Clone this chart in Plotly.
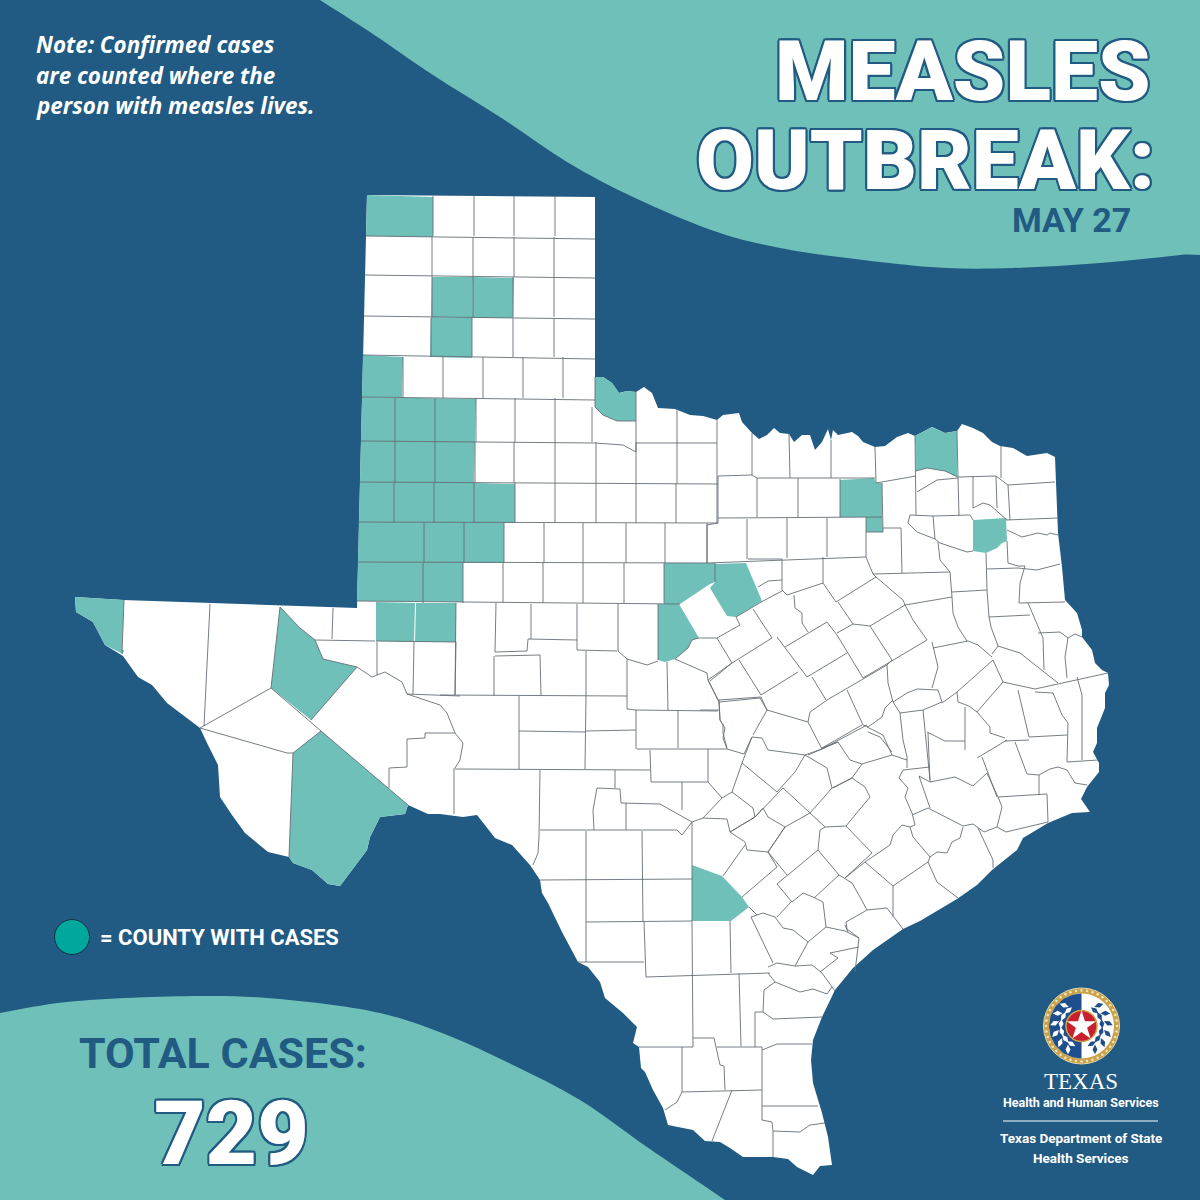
import numpy as np
import plotly.graph_objects as go

NAVY = "#215B83"
TEAL = "#6FC0B8"
LINE = "#666E76"

top_wave = [(260, -40), (320, 0), (367, 30), (433, 75), (500, 117), (567, 162), (633, 197), (720, 233),
            (780, 248), (880, 262), (947, 268), (1013, 268), (1100, 263), (1180, 255), (1260, 245)]
bottom_wave = [(-60, 1024), (0, 1013), (67, 1002), (200, 996), (267, 998), (380, 1013), (447, 1035), (513, 1065),
               (580, 1100), (647, 1147), (725, 1200), (760, 1225)]

state_border = [
    (367, 195), (595, 197), (595, 377), (603, 377), (612, 383), (619, 393), (627, 391), (636, 392), (644, 387),
    (652, 393), (658, 408), (675, 409), (690, 415), (703, 416), (717, 420), (723, 415), (739, 413), (742, 422),
    (752, 433), (759, 439), (767, 435), (774, 428), (780, 433), (789, 434), (794, 442), (802, 435), (810, 435),
    (815, 450), (822, 442), (828, 429), (831, 440), (833, 430), (838, 435), (852, 432), (858, 436), (863, 442),
    (875, 447), (885, 446), (897, 437), (908, 433), (915, 436), (932, 427), (945, 433), (957, 431), (962, 424),
    (973, 428), (983, 433), (992, 442), (1000, 446), (1013, 448), (1027, 456), (1047, 453), (1055, 457),
    (1058, 533), (1062, 567), (1065, 600), (1077, 613), (1082, 630), (1082, 637), (1092, 650), (1095, 663),
    (1102, 670), (1108, 673), (1109, 685), (1105, 693), (1105, 708), (1097, 728), (1097, 743), (1093, 752),
    (1099, 763), (1099, 772), (1087, 787), (1081, 799), (1090, 812), (1072, 813), (1048, 823), (1023, 838),
    (1017, 850), (992, 870), (977, 885), (957, 899), (920, 921), (903, 929), (873, 950), (853, 968), (835, 990),
    (822, 1017), (813, 1040), (811, 1060), (813, 1083), (822, 1113), (828, 1137), (832, 1165), (820, 1166),
    (813, 1175), (797, 1167), (788, 1159), (773, 1157), (743, 1157), (730, 1148), (720, 1142), (705, 1141),
    (693, 1130), (668, 1125), (663, 1108), (653, 1090), (645, 1072), (641, 1068), (639, 1047), (633, 1043),
    (637, 1027), (623, 1013), (605, 998), (600, 982), (588, 967), (578, 962), (562, 932), (548, 903), (542, 893),
    (540, 880), (530, 865), (512, 845), (495, 838), (477, 815), (463, 817), (440, 814), (428, 814), (408, 805),
    (405, 814), (380, 817), (370, 837), (367, 850), (340, 886), (328, 884), (312, 870), (293, 863), (289, 857),
    (268, 852), (245, 833), (232, 815), (220, 797), (218, 765), (207, 743), (200, 728), (167, 703), (152, 685),
    (138, 677), (123, 656), (105, 645), (93, 622), (76, 612), (75, 597), (123, 600), (357, 608),
]

counties_with_cases = [
    [(367, 195), (433, 197), (433, 237), (366, 236)],
    [(432, 277), (473, 277), (472, 318), (431, 317)],
    [(473, 277), (514, 278), (513, 318), (472, 318)],
    [(431, 317), (472, 318), (472, 358), (430, 357)],
    [(363, 355), (403, 357), (402, 397), (362, 397)],
    [(362, 397), (476, 399), (475, 442), (474, 483), (515, 484), (515, 523), (504, 523), (504, 563), (463, 563),
     (463, 602), (357, 601)],
    [(595, 377), (603, 377), (612, 383), (619, 393), (627, 391), (636, 392), (636, 421), (617, 421), (603, 415),
     (595, 407)],
    [(915, 436), (932, 427), (945, 433), (957, 431), (957, 477), (945, 471), (927, 468), (916, 471)],
    [(840, 480), (874, 478), (876, 483), (882, 483), (882, 517), (840, 517)],
    [(866, 517), (882, 517), (883, 532), (866, 532)],
    [(973, 520), (1006, 518), (1007, 541), (1002, 543), (997, 548), (986, 553), (973, 551)],
    [(715, 564), (746, 563), (762, 601), (736, 617), (727, 616), (710, 588), (715, 582)],
    [(664, 563), (715, 563), (715, 582), (710, 584), (680, 604), (664, 604)],
    [(658, 604), (679, 604), (699, 638), (692, 640), (688, 648), (675, 659), (665, 662), (658, 660)],
    [(376, 602), (415, 603), (414, 642), (376, 641)],
    [(416, 603), (456, 603), (456, 642), (415, 642)],
    [(280, 607), (300, 628), (315, 640), (323, 659), (357, 667), (311, 720), (271, 688)],
    [(321, 731), (408, 805), (405, 814), (380, 817), (370, 837), (367, 850), (340, 886), (328, 884), (312, 870),
     (293, 863), (289, 857), (293, 753)],
    [(75, 597), (124, 600), (122, 650), (124, 650), (123, 654), (105, 645), (93, 622), (76, 612)],
    [(692, 865), (722, 876), (742, 897), (749, 907), (731, 921), (692, 921)],
]

# rows of the square counties in the north: top, bottom, inner column lines
grid_rows = [
    (196, 236, [433, 474, 514, 555]),
    (237, 277, [432, 473, 514, 554]),
    (277, 317, [432, 473, 513, 554]),
    (318, 357, [431, 472, 513, 554]),
    (357, 398, [403, 443, 483, 523, 563]),
    (398, 442, [395, 435, 476, 515, 555]),
    (442, 483, [395, 435, 475, 514, 555, 596, 636, 677]),
    (483, 523, [394, 434, 474, 515, 555, 596, 636, 676]),
    (523, 563, [424, 464, 504, 544, 583, 626, 665, 707]),
    (563, 603, [423, 463, 503, 543, 583, 624, 664]),
]

county_borders = [
    [(366, 236), (595, 239)], [(365, 275), (595, 278)], [(364, 316), (595, 319)], [(363, 355), (595, 359)],
    [(362, 397), (595, 400)], [(361, 441), (595, 443), (623, 445), (636, 452)], [(636, 443), (717, 443)],
    [(360, 482), (718, 484)], [(358, 522), (718, 523)], [(357, 562), (707, 563)], [(357, 601), (680, 604)],
    [(595, 377), (595, 407), (603, 415), (617, 421), (636, 421)], [(592, 407), (592, 442)], [(636, 392), (636, 452)],
    [(677, 409), (677, 443)], [(717, 420), (717, 523)], [(715, 563), (715, 582)],
    [(718, 476), (752, 475), (757, 478), (875, 478)], [(752, 433), (752, 475)], [(789, 434), (790, 478)],
    [(831, 440), (831, 478)], [(875, 447), (876, 483)], [(876, 483), (916, 476)], [(915, 436), (916, 515)],
    [(957, 431), (958, 477)], [(1001, 446), (1001, 478)], [(718, 476), (718, 518)], [(757, 478), (757, 517)],
    [(798, 478), (798, 517)], [(840, 479), (840, 517)], [(718, 518), (882, 517)], [(882, 483), (883, 532), (866, 532)],
    [(883, 528), (901, 528)], [(917, 492), (937, 480), (958, 478)], [(916, 471), (927, 468), (945, 471), (958, 477)],
    [(958, 477), (959, 516)], [(958, 477), (996, 476), (1008, 485), (1055, 482)], [(973, 476), (973, 508)],
    [(996, 476), (997, 508)], [(973, 508), (983, 503), (990, 505), (1007, 520)], [(1008, 485), (1010, 520)],
    [(1006, 520), (1058, 518)], [(1007, 530), (1022, 537), (1038, 533), (1047, 535), (1050, 533), (1058, 535)],
    [(910, 515), (933, 516), (970, 515), (973, 520)],
    [(910, 515), (908, 523), (917, 532), (935, 539), (940, 543), (967, 552), (973, 551)], [(933, 516), (935, 539)],
    [(901, 528), (902, 573)], [(866, 517), (866, 557)], [(866, 557), (873, 574), (950, 572)],
    [(938, 542), (940, 560), (950, 572), (952, 597)], [(986, 553), (987, 590)],
    [(987, 569), (1018, 568), (1037, 570), (1060, 564)], [(1007, 541), (1008, 563), (1018, 566), (1025, 566)],
    [(1025, 566), (1020, 583), (1019, 603), (1065, 602)], [(987, 590), (952, 592)],
    [(987, 590), (989, 617), (991, 627), (998, 646), (1020, 653), (1033, 663), (1058, 683)],
    [(989, 617), (1030, 615)], [(1028, 603), (1043, 638), (1044, 670)],
    [(1038, 633), (1060, 632), (1068, 638), (1065, 657), (1067, 678)], [(1068, 638), (1075, 634), (1082, 637)],
    [(1035, 689), (1108, 673)], [(1077, 677), (1082, 695), (1082, 760)], [(1067, 762), (1098, 760)],
    [(747, 519), (747, 559)], [(787, 518), (787, 558)], [(827, 518), (827, 557)],
    [(718, 518), (718, 523), (707, 525), (707, 563)], [(707, 563), (866, 557)], [(748, 559), (782, 559), (782, 590)],
    [(758, 587), (768, 581), (782, 580)], [(782, 590), (787, 595), (823, 583), (823, 557)],
    [(823, 583), (836, 602), (876, 577), (903, 600), (905, 605)], [(876, 577), (873, 574)],
    [(782, 591), (763, 601), (736, 617), (740, 625), (717, 638), (732, 663)], [(753, 609), (772, 638)],
    [(717, 638), (698, 638), (692, 640), (688, 648), (675, 659)], [(732, 663), (710, 681)],
    [(732, 663), (772, 638)], [(739, 660), (761, 695)], [(708, 680), (718, 700), (761, 697)],
    [(761, 695), (798, 672)], [(777, 637), (807, 677)], [(812, 677), (826, 700)], [(785, 647), (827, 622)],
    [(827, 622), (837, 635), (863, 678)], [(807, 677), (847, 653)],
    [(837, 633), (853, 624), (870, 626), (905, 605)], [(853, 624), (838, 602)],
    [(794, 595), (795, 608), (802, 613), (802, 623), (808, 632)], [(870, 626), (892, 660)], [(863, 678), (927, 640)],
    [(905, 605), (952, 597), (953, 613), (958, 627), (967, 641)], [(905, 605), (913, 620), (927, 640)],
    [(932, 642), (938, 667), (932, 688)], [(933, 648), (968, 641), (978, 645), (992, 657)],
    [(998, 646), (992, 654)], [(993, 660), (1003, 682), (1035, 689)], [(993, 660), (957, 692), (942, 703)],
    [(1003, 682), (977, 712), (969, 706), (958, 702), (957, 692)], [(892, 660), (887, 665), (888, 683), (893, 702)],
    [(847, 690), (863, 725), (868, 727), (882, 717), (885, 708), (893, 700)], [(827, 700), (887, 665)],
    [(827, 700), (810, 712), (808, 722)], [(808, 722), (767, 710), (753, 735)], [(767, 710), (761, 697)],
    [(808, 722), (822, 749), (867, 725)], [(822, 749), (805, 755), (768, 750), (762, 738), (752, 737)],
    [(752, 737), (742, 763), (732, 792)], [(719, 700), (720, 720), (725, 728), (723, 738), (727, 749)],
    [(700, 710), (720, 710)], [(742, 763), (777, 792)], [(805, 755), (795, 772), (777, 792)],
    [(867, 727), (883, 735), (892, 755)], [(893, 702), (900, 713), (903, 740), (907, 757), (907, 768)],
    [(900, 713), (923, 710), (930, 780)], [(893, 702), (907, 693), (917, 689), (938, 690), (942, 702), (923, 710)],
    [(927, 732), (945, 741), (965, 741)], [(965, 707), (965, 750)], [(977, 758), (1007, 740)],
    [(977, 712), (990, 727), (990, 733), (1005, 738)], [(1005, 741), (1029, 740)],
    [(1015, 742), (1027, 774), (1039, 775), (1050, 769), (1058, 767), (1067, 770), (1075, 783), (1087, 785)],
    [(1018, 690), (1029, 737), (1067, 735)], [(1035, 692), (1053, 693), (1062, 715), (1068, 723), (1067, 762)],
    [(982, 757), (997, 797)], [(1039, 775), (1039, 795)],
    [(998, 797), (1047, 794), (1048, 822)], [(997, 827), (1002, 807), (998, 797), (987, 773), (973, 786), (955, 777),
                                              (930, 782), (919, 776), (930, 808)],
    [(930, 782), (928, 733)], [(928, 808), (963, 826), (973, 824), (984, 832), (997, 827), (1006, 832), (1048, 822)],
    [(978, 828), (993, 860), (993, 868)], [(912, 815), (928, 808)],
    [(902, 825), (910, 827), (915, 825), (912, 813), (905, 797), (908, 788), (899, 778), (903, 770), (930, 767)],
    [(910, 827), (913, 837), (930, 857)], [(893, 886), (928, 862), (930, 857)], [(928, 862), (937, 882), (958, 898)],
    [(930, 857), (937, 852), (947, 853), (952, 842), (960, 838), (963, 827)],
    [(865, 862), (890, 845), (893, 835), (902, 825)], [(865, 862), (893, 886), (893, 917)], [(845, 878), (865, 862)],
    [(892, 755), (907, 760)], [(868, 732), (880, 737), (892, 752)],
    [(838, 742), (850, 760), (862, 764), (892, 755)], [(808, 755), (838, 742)], [(822, 748), (862, 725)],
    [(838, 742), (822, 748)], [(862, 764), (852, 778), (833, 788)], [(805, 755), (827, 768), (832, 788)],
    [(783, 788), (810, 813)], [(810, 813), (832, 788)], [(832, 788), (852, 778), (865, 787), (870, 797)],
    [(870, 797), (846, 826)], [(846, 826), (872, 853), (845, 878)], [(783, 788), (763, 808), (755, 817)],
    [(763, 808), (768, 817), (785, 827), (810, 813)], [(785, 827), (768, 852)],
    [(810, 813), (825, 827), (820, 830), (818, 850)], [(825, 827), (846, 826)],
    [(818, 850), (777, 884), (792, 902)], [(818, 850), (839, 875), (814, 898)],
    [(839, 875), (852, 883), (860, 897), (867, 910), (887, 908), (903, 929)],
    [(867, 910), (846, 922), (847, 929), (859, 938), (855, 972)], [(845, 925), (848, 932)],
    [(792, 902), (803, 893), (813, 897), (823, 902), (826, 927)], [(826, 927), (808, 942)],
    [(826, 927), (845, 931), (859, 938)], [(859, 947), (830, 953), (838, 958), (820, 972)],
    [(791, 902), (777, 917)], [(751, 917), (763, 913), (775, 917), (783, 928), (793, 930), (808, 942), (795, 966)],
    [(751, 917), (773, 963)], [(749, 907), (757, 915)],
    [(768, 967), (777, 963), (795, 966), (812, 965), (822, 973), (835, 991)],
    [(768, 973), (775, 982), (800, 992), (813, 989), (827, 994), (832, 987)],
    [(775, 982), (764, 990), (763, 1012), (755, 1012), (755, 1047)], [(763, 1012), (773, 1019), (822, 1017)],
    [(762, 1050), (777, 1044), (812, 1044)], [(717, 1047), (762, 1047)], [(762, 1047), (762, 1106)],
    [(762, 1106), (818, 1106)], [(762, 1106), (762, 1120), (772, 1122), (773, 1131), (800, 1132), (810, 1125), (825, 1123)],
    [(773, 1131), (773, 1157)], [(732, 1090), (712, 1141)], [(682, 1092), (762, 1090)],
    [(693, 1038), (714, 1038), (720, 1065), (724, 1066), (725, 1090)], [(682, 1047), (682, 1092), (677, 1102), (665, 1110)],
    [(639, 1047), (693, 1047)], [(739, 973), (741, 1046)], [(692, 921), (693, 1047)], [(730, 921), (731, 973)],
    [(646, 977), (770, 973)], [(644, 922), (646, 977)], [(578, 962), (644, 962)], [(586, 922), (692, 921)],
    [(586, 831), (586, 962)], [(642, 831), (643, 922)], [(540, 880), (692, 879)],
    [(692, 822), (692, 921)], [(723, 876), (745, 845)], [(742, 897), (777, 867)],
    [(777, 867), (768, 852), (747, 850), (745, 842), (730, 832), (727, 819), (703, 818), (692, 822)],
    [(787, 875), (768, 852)], [(768, 852), (785, 827)], [(730, 832), (755, 817), (753, 808), (732, 792)],
    [(708, 749), (708, 782)], [(722, 798), (732, 792)], [(722, 798), (708, 782)], [(722, 798), (703, 818)],
    # west
    [(210, 604), (204, 726)], [(280, 607), (271, 688)], [(271, 688), (200, 728)], [(271, 688), (321, 731)],
    [(200, 728), (287, 753), (293, 753)], [(293, 753), (321, 731)], [(321, 731), (408, 805)], [(311, 720), (357, 667)],
    [(280, 607), (300, 628), (315, 640), (323, 659), (357, 667)], [(333, 608), (332, 639)], [(315, 640), (375, 641)],
    [(377, 642), (377, 675)], [(293, 753), (289, 857)],
    [(357, 667), (372, 677), (385, 672), (402, 682), (407, 694), (440, 705), (447, 713), (455, 733), (463, 743),
     (460, 760), (455, 768)],
    [(414, 642), (413, 694)], [(407, 694), (460, 696)], [(456, 642), (455, 695)], [(376, 641), (456, 642)],
    [(389, 788), (389, 768), (407, 767), (407, 739), (425, 738), (425, 733), (455, 733)], [(454, 814), (454, 768)],
    [(124, 600), (122, 654)],
    # middle
    [(456, 603), (455, 695)], [(496, 603), (495, 652)], [(495, 652), (527, 651), (528, 639), (577, 640)],
    [(531, 604), (531, 639)], [(577, 604), (577, 650)], [(577, 650), (617, 651)], [(618, 604), (618, 651)],
    [(618, 651), (627, 659), (647, 665), (658, 661)], [(495, 656), (540, 655), (541, 696)], [(494, 656), (494, 696)],
    [(440, 695), (627, 696)], [(586, 651), (586, 696)], [(627, 659), (627, 709)], [(519, 696), (519, 769)],
    [(519, 731), (586, 732)], [(586, 696), (585, 769)], [(586, 731), (636, 730)], [(627, 709), (636, 710)],
    [(636, 710), (636, 749)], [(636, 710), (718, 711)], [(667, 662), (668, 710)], [(678, 711), (678, 748)],
    [(637, 749), (727, 749), (744, 754)], [(455, 769), (650, 770)],
    [(540, 770), (539, 837), (538, 853), (533, 865)], [(650, 750), (651, 782), (708, 782)],
    [(615, 770), (615, 788)], [(597, 788), (620, 789), (621, 803), (660, 804), (692, 822)],
    [(597, 788), (593, 810), (594, 830)], [(626, 803), (626, 830)], [(540, 830), (677, 830), (682, 835), (692, 822)],
    [(682, 782), (682, 810)], [(658, 604), (658, 660)], [(675, 659), (707, 673), (708, 680)],
    [(708, 680), (732, 663)], [(719, 702), (760, 698), (767, 710)], [(708, 680), (719, 702)],
    [(719, 702), (720, 720), (723, 725), (723, 733), (727, 748)], [(744, 754), (752, 737)],
    [(763, 808), (755, 817), (730, 832)],
]

leaf_angles = [40, 62, 84, 106, 128, 150]
ring_angles = list(range(0, 360, 9))


def xy(points):
    return [p[0] for p in points], [p[1] for p in points]


fig = go.Figure()


def add_fill(points, color, spline=False):
    x, y = xy(points)
    fig.add_trace(go.Scatter(x=x, y=y, mode="lines", fill="toself", fillcolor=color,
                             line=dict(width=0, color=color, shape="spline" if spline else "linear"),
                             hoverinfo="skip", showlegend=False))


add_fill(top_wave + [(1400, -200), (200, -200)], TEAL, spline=True)
add_fill(bottom_wave + [(800, 1500), (-200, 1500)], TEAL, spline=True)
add_fill(state_border, "white")
for county in counties_with_cases:
    add_fill(county, TEAL)

line_x, line_y = [], []
for top, bottom, columns in grid_rows:
    for col in columns:
        line_x += [col, col, None]
        line_y += [top, bottom, None]
for border in county_borders:
    x, y = xy(border)
    line_x += x + [None]
    line_y += y + [None]
fig.add_trace(go.Scatter(x=line_x, y=line_y, mode="lines", line=dict(color=LINE, width=0.9),
                         hoverinfo="skip", showlegend=False))

# legend dot
fig.add_trace(go.Scatter(x=[72], y=[937], mode="markers", hoverinfo="skip", showlegend=False,
                         marker=dict(size=35, color="#00A79D", line=dict(color="#10303F", width=1))))

# seal
seal_x, seal_y = 1081.5, 1026
fig.add_trace(go.Scatter(x=[seal_x], y=[seal_y], mode="markers", hoverinfo="skip", showlegend=False,
                         marker=dict(size=76, color="#C9A24B", line=dict(color="#E8D9A8", width=1))))
ring = np.deg2rad(ring_angles)
fig.add_trace(go.Scatter(x=seal_x + 35.5 * np.cos(ring), y=seal_y + 35.5 * np.sin(ring), mode="markers",
                         hoverinfo="skip", showlegend=False, marker=dict(size=2.5, color="#F3E6B8")))
fig.add_trace(go.Scatter(x=[seal_x], y=[seal_y], mode="markers", hoverinfo="skip", showlegend=False,
                         marker=dict(size=65, color="white")))
arc = np.linspace(np.pi / 2, 3 * np.pi / 2, 40)
add_fill(list(zip(seal_x + 32.5 * np.cos(arc), seal_y + 32.5 * np.sin(arc))), "#1F4E8C")
for side, color in ((-1, "white"), (1, "#1F4E8C")):
    for radius, tilt in ((27, 60), (20.5, 0)):
        theta = np.array(leaf_angles)
        rad = np.deg2rad(theta)
        fig.add_trace(go.Scatter(x=seal_x + side * radius * np.sin(rad), y=seal_y - radius * np.cos(rad),
                                 mode="markers", hoverinfo="skip", showlegend=False,
                                 marker=dict(symbol="diamond-wide", size=7, color=color,
                                             angle=list(side * (theta - tilt)))))
fig.add_trace(go.Scatter(x=[seal_x], y=[seal_y], mode="markers", hoverinfo="skip", showlegend=False,
                         marker=dict(size=31, color="#C8202F", line=dict(color="#C9A24B", width=1.5))))
fig.add_trace(go.Scatter(x=[seal_x], y=[seal_y], mode="markers", hoverinfo="skip", showlegend=False,
                         marker=dict(symbol="star", size=22, color="white")))

fig.add_trace(go.Scatter(x=[1003, 1158], y=[1121, 1121], mode="lines", line=dict(color="white", width=1),
                         hoverinfo="skip", showlegend=False))

outline = ",".join(f"{a}px {b}px 0 {NAVY}" for a, b in
                   [(2.2, 0), (-2.2, 0), (0, 2.2), (0, -2.2), (1.6, 1.6), (-1.6, 1.6), (1.6, -1.6), (-1.6, -1.6)])


def label(text, x, y, size, color="white", family="Roboto", anchor="left", weight="bold", style="normal", shadow="none"):
    fig.add_annotation(x=x, y=y, text=text, showarrow=False, xanchor=anchor, yanchor="middle",
                       font=dict(family=family, size=size, color=color, weight=weight, style=style, shadow=shadow))


label("MEASLES", 1153, 71, 84, anchor="right", weight=900, shadow=outline)
label("OUTBREAK:", 1157, 160, 84, anchor="right", weight=900, shadow=outline)
label("MAY 27", 1071, 220, 34, color=NAVY, anchor="center")
label("Note: Confirmed cases", 34, 44, 22.4, family="Open Sans", style="italic")
label("are counted where the", 34, 75, 22.4, family="Open Sans", style="italic")
label("person with measles lives.", 34, 105, 22.4, family="Open Sans", style="italic")
label("= COUNTY WITH CASES", 98, 937, 22)
label("TOTAL CASES:", 223, 1053, 43, color=NAVY, anchor="center")
label("729", 231, 1133, 89, anchor="center", weight=900, shadow=outline)
label("TEXAS", 1081, 1081, 23, family="Liberation Serif", anchor="center", weight="normal")
label("Health and Human Services", 1081, 1102, 12.5, anchor="center")
label("Texas Department of State", 1081, 1138, 13.5, anchor="center")
label("Health Services", 1081, 1158, 13.5, anchor="center")

fig.update_layout(width=1200, height=1200, margin=dict(l=0, r=0, t=0, b=0), paper_bgcolor=NAVY, plot_bgcolor=NAVY,
                  xaxis=dict(range=[0, 1200], visible=False, fixedrange=True),
                  yaxis=dict(range=[1200, 0], visible=False, fixedrange=True),
                  showlegend=False)

fig.write_html("out.html", config={"displayModeBar": False},
               post_script="document.body.style.margin='0';document.body.style.overflow='hidden';")
